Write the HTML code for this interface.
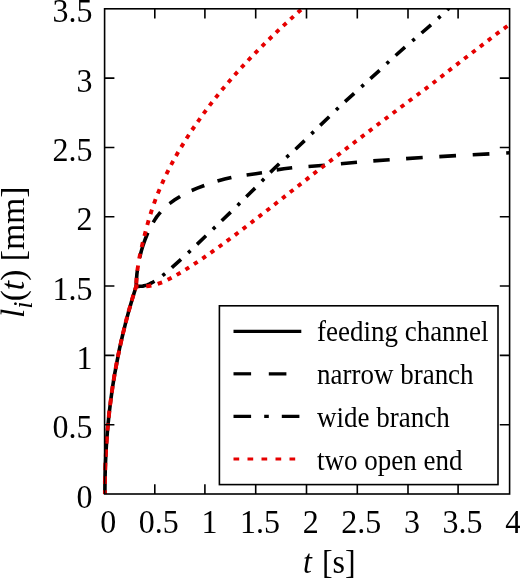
<!DOCTYPE html>
<html><head><meta charset="utf-8"><style>html,body{margin:0;padding:0;background:#fff;}svg{display:block;}</style></head>
<body>
<svg width="520" height="579" viewBox="0 0 520 579">
<rect width="520" height="579" fill="#fff"/>
<defs><clipPath id="ax"><rect x="101.6" y="8.8" width="408.0" height="487.2"/></clipPath></defs>
<g clip-path="url(#ax)">
<path d="M104.9,494.0 105.0,480.5 105.3,467.1 105.9,453.6 106.7,440.3 107.8,426.9 109.1,413.8 110.7,400.6 112.5,387.5 114.6,374.4 117.0,361.6 119.5,348.7 122.4,336.0 125.5,323.4 128.8,310.9 132.4,298.4 136.2,286.2" fill="none" stroke="#000" stroke-width="3.60" stroke-linejoin="round"/>
<path d="M153.2,222.4 154.9,219.6 156.7,216.9 158.6,214.5 160.5,212.1M169.5,203.6 174.4,200.1 180.1,196.5M191.7,190.5 197.3,188.2 204.3,185.5M217.5,181.1 224.7,179.0 231.4,177.4M246.6,175.0 255.8,173.7 262.0,172.8M276.7,169.9 283.9,168.8 292.2,167.8M308.5,166.5 324.7,165.2M340.9,163.7 357.0,162.3M373.3,160.9 389.7,159.7M406.1,158.6 422.7,157.5M439.3,156.6 456.0,155.6M472.7,154.8 489.4,153.9M506.2,153.0 509.6,152.8M136.2,286.2 136.3,282.2 136.6,278.2 136.9,274.1 137.4,270.1M139.7,257.7 141.3,251.1 143.2,244.8 145.4,238.7 147.8,232.8" fill="none" stroke="#000" stroke-width="3.60"/>
<path d="M136.2,286.2 138.4,286.4 140.6,286.3 142.8,286.1 145.0,285.6 147.3,284.9 149.6,283.9 152.0,282.7 154.5,281.3M162.5,275.7 165.1,273.6M171.8,267.7 181.0,259.3M188.1,252.8 190.5,250.6M197.0,244.4 206.0,235.8M212.9,229.2 215.3,226.9M221.7,220.7 230.7,212.1M237.6,205.4 239.9,203.1M246.3,196.8 255.1,188.1M261.8,181.2 264.1,178.8M270.3,172.4 275.0,167.8 279.2,163.7M286.4,157.3 288.9,155.2M295.5,149.2 304.6,140.6M311.4,133.9 313.8,131.6M320.2,125.4 329.2,116.8M336.1,110.1 338.4,107.8M345.0,101.7 354.2,93.3M361.4,86.9 363.8,84.7M370.4,78.7 379.6,70.3M386.6,63.7 389.0,61.5M395.6,55.5 405.0,47.2M412.3,40.9 414.8,38.8M421.6,33.0 431.0,24.8M438.1,18.3 440.5,16.1M447.1,10.0 449.0,8.3" fill="none" stroke="#000" stroke-width="3.60"/>
<path d="M136.3,283.6 136.6,277.9M137.3,270.7 138.1,265.5M139.2,258.7 140.2,253.7M141.7,247.1 142.8,242.3M144.4,235.9 145.6,231.2M147.3,224.9 148.6,220.2M150.5,214.1 151.9,209.6M154.0,203.6 155.6,199.2M157.8,193.5 159.6,189.3M162.0,183.7 163.8,179.6M166.4,174.2 168.4,170.2M171.1,164.9 173.2,161.0M176.0,155.9 178.2,152.1M181.2,147.1 183.5,143.4M186.5,138.5 188.9,134.8M192.0,130.0 194.5,126.5M197.7,121.8 200.2,118.3M203.5,113.6 206.1,110.2M209.5,105.6 212.1,102.3M215.6,97.8 218.3,94.5M221.8,90.1 224.6,86.8M228.2,82.5 231.0,79.3M234.7,75.0 237.5,71.9M241.3,67.7 244.2,64.6M248.0,60.5 251.0,57.4M254.9,53.4 257.9,50.3M261.9,46.4 264.9,43.4M268.9,39.5 272.0,36.5M276.0,32.6 279.1,29.7M283.2,25.9 286.4,23.0M290.5,19.2 293.6,16.3M297.8,12.5 301.0,9.7" fill="none" stroke="#e60000" stroke-width="3.90"/>
<path d="M104.9,494.0 104.9,490.2M104.9,482.2 105.0,476.3M105.2,468.5 105.4,462.7M105.8,455.1 106.1,449.4M106.6,441.9 107.0,436.3M107.6,428.9 108.1,423.4M108.8,416.2 109.4,410.8M110.3,403.6 111.0,398.3M112.0,391.3 112.7,386.1M113.8,379.2 114.7,374.1M115.9,367.3 116.8,362.2M118.1,355.5 119.2,350.6M120.6,344.0 121.7,339.1M123.2,332.6 124.4,327.8M126.0,321.4 127.2,316.7M128.9,310.4 130.3,305.7M132.1,299.5 133.5,294.9M135.4,288.8 136.2,286.2 138.5,286.4M146.2,286.3 148.8,286.0 151.4,285.5M157.7,283.9 162.1,282.3M167.6,279.8 171.6,277.7M176.7,274.9 180.5,272.7M185.5,269.6 189.1,267.3M194.0,264.2 197.6,261.8M202.4,258.6 205.9,256.1M210.6,252.8 214.1,250.3M218.8,247.0 222.2,244.5M226.8,241.1 230.3,238.5M234.9,235.1 238.3,232.5M242.8,229.1 246.2,226.5M250.8,223.0 254.1,220.4M258.6,216.9 262.0,214.3M266.5,210.8 269.9,208.2M274.3,204.7 277.7,202.0M282.2,198.5 285.5,195.9M290.0,192.3 293.4,189.7M297.8,186.2 301.2,183.6M305.7,180.1 309.1,177.4M313.5,173.9 316.9,171.3M321.4,167.8 324.8,165.2M329.3,161.7 332.7,159.1M337.2,155.6 340.6,153.0M345.1,149.5 348.5,146.9M353.0,143.5 356.4,140.9M361.0,137.4 364.4,134.8M368.9,131.4 372.3,128.8M376.8,125.3 380.2,122.7M384.8,119.3 388.2,116.7M392.8,113.3 396.2,110.7M400.7,107.3 404.2,104.7M408.7,101.3 412.2,98.7M416.8,95.3 420.2,92.8M424.8,89.4 428.2,86.8M432.8,83.3 436.1,80.7M440.6,77.2 444.0,74.5M448.4,71.0 451.8,68.4M456.3,64.9 459.7,62.3M464.2,58.8 467.6,56.2M472.1,52.8 475.5,50.2M480.0,46.7 483.4,44.1M487.9,40.6 491.3,38.0M495.8,34.5 499.3,31.9M503.9,28.6 507.4,26.0M104.9,494.0 104.9,491.9M104.9,484.0 105.0,478.1M105.2,470.3 105.4,464.5M105.7,456.8 106.0,451.1M106.5,443.6 106.9,438.0M107.4,430.6 107.9,425.1M108.7,417.8 109.3,412.4M110.1,405.2 110.8,399.9M111.7,392.9 112.5,387.7M113.6,380.8 114.4,375.6M115.6,368.8 116.5,363.7M117.8,357.0 118.9,352.1M120.3,345.5 121.3,340.6M122.8,334.1 124.0,329.2M125.6,322.8 126.8,318.1M128.5,311.8 129.9,307.1M131.7,300.9 133.0,296.3M134.9,290.2 136.2,286.2" fill="none" stroke="#e60000" stroke-width="3.90"/>
</g>
<path d="M154.80,494.00 V484.20 M154.80,8.80 V18.60 M204.90,494.00 V484.20 M204.90,8.80 V18.60 M255.70,494.00 V484.20 M255.70,8.80 V18.60 M306.50,494.00 V484.20 M306.50,8.80 V18.60 M357.30,494.00 V484.20 M357.30,8.80 V18.60 M408.00,494.00 V484.20 M408.00,8.80 V18.60 M458.10,494.00 V484.20 M458.10,8.80 V18.60 M104.60,424.69 H114.40 M509.60,424.69 H499.80 M104.60,355.37 H114.40 M509.60,355.37 H499.80 M104.60,286.06 H114.40 M509.60,286.06 H499.80 M104.60,216.74 H114.40 M509.60,216.74 H499.80 M104.60,147.43 H114.40 M509.60,147.43 H499.80 M104.60,78.11 H114.40 M509.60,78.11 H499.80" stroke="#000" stroke-width="1.6" fill="none"/>
<rect x="104.6" y="8.8" width="405.0" height="485.2" fill="none" stroke="#000" stroke-width="1.6"/>
<g font-family="'Liberation Serif', 'Times New Roman', serif" font-size="32" fill="#000">
<text transform="translate(92.6,507.60) scale(1,1.075)" text-anchor="end">0</text>
<text transform="translate(92.6,438.29) scale(1,1.075)" text-anchor="end">0.5</text>
<text transform="translate(92.6,368.97) scale(1,1.075)" text-anchor="end">1</text>
<text transform="translate(92.6,299.66) scale(1,1.075)" text-anchor="end">1.5</text>
<text transform="translate(92.6,230.34) scale(1,1.075)" text-anchor="end">2</text>
<text transform="translate(92.6,161.03) scale(1,1.075)" text-anchor="end">2.5</text>
<text transform="translate(92.6,91.71) scale(1,1.075)" text-anchor="end">3</text>
<text transform="translate(92.6,22.40) scale(1,1.075)" text-anchor="end">3.5</text>
<text transform="translate(108.20,533.4) scale(1,1.075)" text-anchor="middle">0</text>
<text transform="translate(158.82,533.4) scale(1,1.075)" text-anchor="middle">0.5</text>
<text transform="translate(209.45,533.4) scale(1,1.075)" text-anchor="middle">1</text>
<text transform="translate(260.08,533.4) scale(1,1.075)" text-anchor="middle">1.5</text>
<text transform="translate(310.70,533.4) scale(1,1.075)" text-anchor="middle">2</text>
<text transform="translate(361.33,533.4) scale(1,1.075)" text-anchor="middle">2.5</text>
<text transform="translate(411.95,533.4) scale(1,1.075)" text-anchor="middle">3</text>
<text transform="translate(462.58,533.4) scale(1,1.075)" text-anchor="middle">3.5</text>
<text transform="translate(513.20,533.4) scale(1,1.075)" text-anchor="middle">4</text>
<text transform="translate(303,572.5) scale(1,1.075)"><tspan font-style="italic">t</tspan><tspan dx="2"> [s]</tspan></text>
<text transform="translate(24.0,318.0) rotate(-90) scale(1.05,1.075)"><tspan font-style="italic">l</tspan><tspan font-style="italic" font-size="25" dy="7">i</tspan><tspan dy="-7">(</tspan><tspan font-style="italic">t</tspan>) [mm]</text>
</g>
<g>
<rect x="219.4" y="305.8" width="278.6" height="178.8" fill="#fff" stroke="#000" stroke-width="1.6"/>
<path d="M233.5,331.3 H301.3" stroke="#000" stroke-width="3.2"/>
<path d="M233.5,373.8 H301.3" stroke="#000" stroke-width="3.2" stroke-dasharray="17.6 17.7"/>
<path d="M233.5,416.4 H301.3" stroke="#000" stroke-width="3.2" stroke-dasharray="17.6 13.1 4.6 13"/>
<path d="M233.5,459 H301.3" stroke="#e60000" stroke-width="3.0" stroke-dasharray="5.7 8.3"/>
<g font-family="'Liberation Serif', 'Times New Roman', serif" font-size="27" fill="#000">
<text transform="translate(317,341) scale(1,1.075)">feeding channel</text>
<text transform="translate(317,384) scale(1,1.075)">narrow branch</text>
<text transform="translate(317,427) scale(1,1.075)">wide branch</text>
<text transform="translate(317,470) scale(1,1.075)">two open end</text>
</g>
</g>
</svg>
</body></html>
